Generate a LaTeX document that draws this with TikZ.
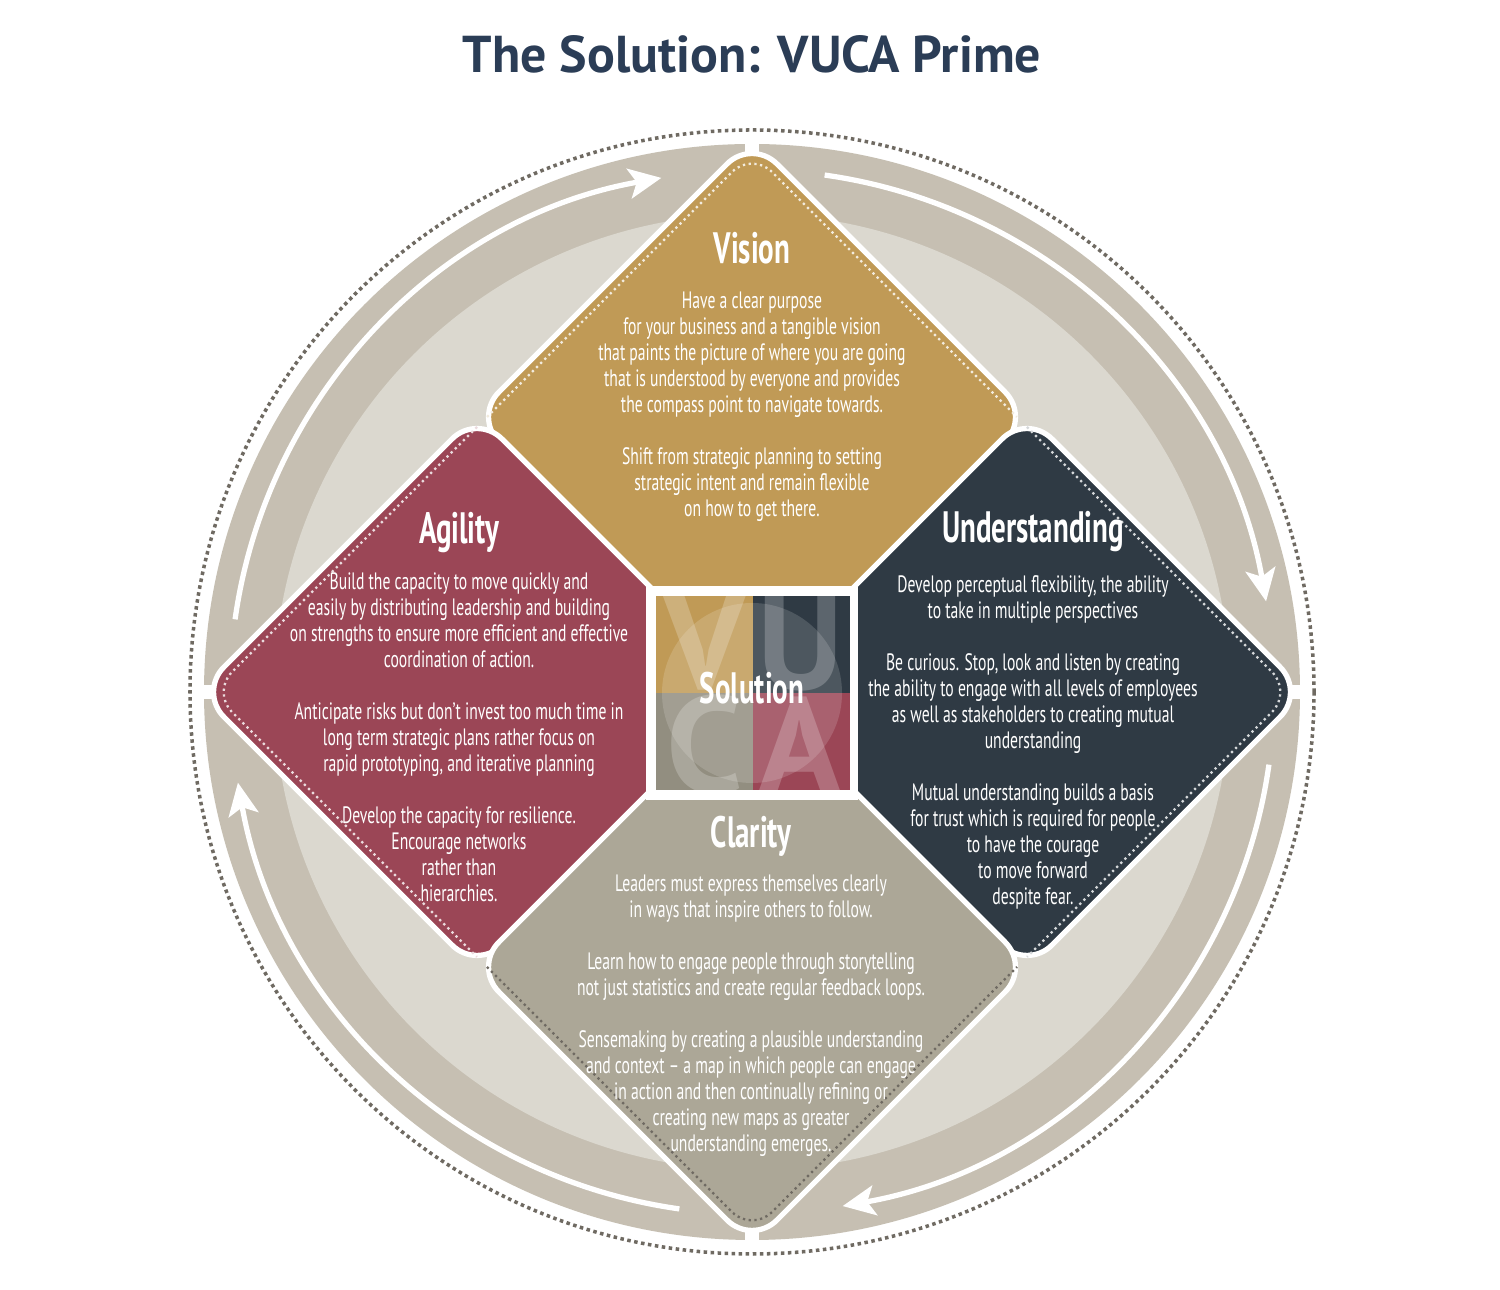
\documentclass[tikz,border=0pt]{standalone}
\usepackage{fontspec}
\setmainfont{PT Sans}
\newfontfamily\cond[FakeStretch=0.66]{PT Sans}
\usetikzlibrary{arrows.meta}
\definecolor{ringc}{HTML}{C6BFB2}
\definecolor{innerc}{HTML}{DBD8CF}
\definecolor{dotc}{HTML}{6F6A62}
\definecolor{visc}{HTML}{C09A56}
\definecolor{agic}{HTML}{9B4656}
\definecolor{undc}{HTML}{2F3A44}
\definecolor{clac}{HTML}{ACA797}
\definecolor{titc}{HTML}{2B3D56}
\tikzset{
 body/.style={align=center,inner sep=0pt,text=white,font=\cond\fontsize{13.5}{14.8}\selectfont,anchor=north},
 head/.style={inner sep=0pt,text=white,font=\cond\bfseries\fontsize{25}{28}\selectfont},
 diam/.style={draw=white,line width=3pt,rounded corners=20pt},
 inset/.style={draw=#1,dotted,line width=1.3pt,rounded corners=16pt},
 cyc/.style={white,line width=3pt,-{Stealth[length=0.65cm,width=0.6cm,inset=0.15cm]}},
 big/.style={text=white,opacity=0.22,font=\bfseries\fontsize{78}{80}\selectfont,inner sep=0pt}
}
\begin{document}
\begin{tikzpicture}[x=0.02cm,y=0.02cm]
\useasboundingbox[fill=white] (0,0) rectangle (1500,1290);
\coordinate (C) at (752,598);
\fill[ringc] (C) circle (548);
\fill[innerc] (C) circle (478);
% cycle arrows
\draw[cyc] ([shift={(172:522)}]C) arc (172:100:522);
\draw[cyc] ([shift={(82:522)}]C) arc (82:10:522);
\draw[cyc] ([shift={(-8:522)}]C) arc (-8:-80:522);
\draw[cyc] ([shift={(-98:522)}]C) arc (-98:-170:522);
% gaps at tips
\foreach \a in {0,90,180,270}{
 \draw[white,line width=8pt] ([shift={(\a:520)}]C) -- ([shift={(\a:556)}]C);}
\draw[dotc,dotted,line width=2pt] (C) circle (562);
% diamonds
\def\h{278}
\foreach \cx/\cy/\col in {752/873/visc, 477/598/agic, 1027/598/undc, 752/323/clac}{
 \fill[\col,diam] (\cx,\cy+\h) -- (\cx+\h,\cy) -- (\cx,\cy-\h) -- (\cx-\h,\cy) -- cycle;}
\def\k{265}
\draw[inset=white!80!visc] (752-\k,873) -- (752,873+\k) -- (752+\k,873);
\draw[inset=white!80!agic] (477,598+\k) -- (477-\k,598) -- (477,598-\k);
\draw[inset=white!80!undc] (1027,598+\k) -- (1027+\k,598) -- (1027,598-\k);
\draw[inset=dotc] (752-\k,323) -- (752,323-\k) -- (752+\k,323);
% centre
\fill[white] (646,490) rectangle (858,704);
\fill[visc] (656,597) rectangle (753,694);
\fill[undc] (753,597) rectangle (850,694);
\fill[clac!85!black] (656,500) rectangle (753,597);
\fill[agic] (753,500) rectangle (850,597);
\begin{scope}
\clip (656,500) rectangle (850,694);
\fill[white,opacity=0.15] (752,597) circle (90);
\node[big] (lv) at (705,648) {V};
\node[big] (lu) at (800,648) {U};
\node[big] (lc) at (705,545) {C};
\node[big] (la) at (800,545) {A};
\end{scope}
\node[head] (sol) at (752,602) {Solution};
% title
\node[inner sep=0pt,text=titc,font=\bfseries\fontsize{29.5}{34}\selectfont] (title) at (752,1236) {The Solution: VUCA Prime};
% Vision
\node[head] (vh) at (752,1042) {Vision};
\node[body] (vt) at (752,998) {Have a clear purpose\\ for your business and a tangible vision\\ that paints the picture of where you are going\\ that is understood by everyone and provides\\ the compass point to navigate towards.\\[14.8pt] Shift from strategic planning to setting\\ strategic intent and remain flexible\\ on how to get there.};
% Agility
\node[head] (ah) at (459,757) {Agility};
\node[body] (at) at (459,718) {Build the capacity to move quickly and\\ easily by distributing leadership and building\\ on strengths to ensure more efficient and effective\\ coordination of action.\\[14.8pt] Anticipate risks but don’t invest too much time in\\ long term strategic plans rather focus on\\ rapid prototyping, and iterative planning\\[14.8pt] Develop the capacity for resilience.\\ Encourage networks\\ rather than\\ hierarchies.};
% Understanding
\node[head] (uh) at (1033,758) {Understanding};
\node[body] (ut) at (1033,715) {Develop perceptual flexibility, the ability\\ to take in multiple perspectives\\[14.8pt] Be curious. Stop, look and listen by creating\\ the ability to engage with all levels of employees\\ as well as stakeholders to creating mutual\\ understanding\\[14.8pt] Mutual understanding builds a basis\\ for trust which is required for people\\ to have the courage\\ to move forward\\ despite fear.};
% Clarity
\node[head] (ch) at (751,454) {Clarity};
\node[body] (ct) at (751,415) {Leaders must express themselves clearly\\ in ways that inspire others to follow.\\[14.8pt] Learn how to engage people through storytelling\\ not just statistics and create regular feedback loops.\\[14.8pt] Sensemaking by creating a plausible understanding\\ and context – a map in which people can engage\\ in action and then continually refining or\\ creating new maps as greater\\ understanding emerges.};
\end{tikzpicture}
\end{document}
